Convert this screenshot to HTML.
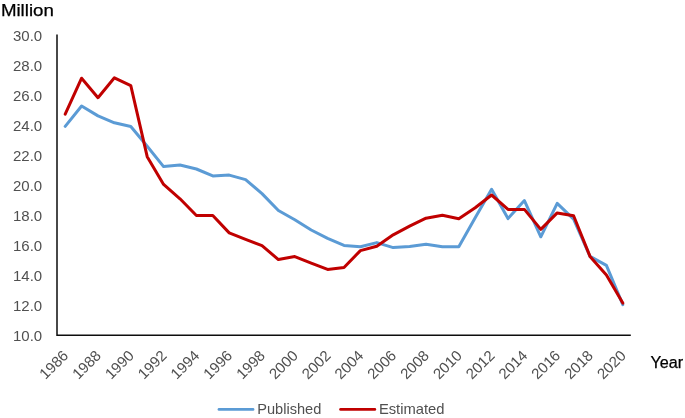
<!DOCTYPE html>
<html lang="en"><head><meta charset="utf-8"><title>Chart</title>
<style>
html,body{margin:0;padding:0;background:#fff;}
body{width:685px;height:418px;overflow:hidden;}
svg{display:block;}
text{font-family:"Liberation Sans",sans-serif;}
.t{font-size:15px;fill:#505050;}
.b{font-size:15px;fill:#000;stroke:#000;stroke-width:0.25px;}
</style></head><body>
<svg width="685" height="418" viewBox="0 0 685 418">
<rect width="685" height="418" fill="#fff"/>
<text class="b" x="0.9" y="15.9" textLength="53" lengthAdjust="spacingAndGlyphs" style="font-size:16.2px">Million</text>
<text class="b" x="650.5" y="368.1" textLength="32.7" lengthAdjust="spacingAndGlyphs" style="font-size:16px">Year</text>
<text class="t" x="42.2" y="40.6" text-anchor="end">30.0</text>
<text class="t" x="42.2" y="70.6" text-anchor="end">28.0</text>
<text class="t" x="42.2" y="100.6" text-anchor="end">26.0</text>
<text class="t" x="42.2" y="130.6" text-anchor="end">24.0</text>
<text class="t" x="42.2" y="160.6" text-anchor="end">22.0</text>
<text class="t" x="42.2" y="190.6" text-anchor="end">20.0</text>
<text class="t" x="42.2" y="220.6" text-anchor="end">18.0</text>
<text class="t" x="42.2" y="250.6" text-anchor="end">16.0</text>
<text class="t" x="42.2" y="280.6" text-anchor="end">14.0</text>
<text class="t" x="42.2" y="310.6" text-anchor="end">12.0</text>
<text class="t" x="42.2" y="340.6" text-anchor="end">10.0</text>
<path d="M57 34.5V335.25H630.8" fill="none" stroke="#0d0d0d" stroke-width="1.5"/>
<text class="t" text-anchor="end" transform="translate(69.2 356.5) rotate(-45)">1986</text>
<text class="t" text-anchor="end" transform="translate(102.0 356.5) rotate(-45)">1988</text>
<text class="t" text-anchor="end" transform="translate(134.8 356.5) rotate(-45)">1990</text>
<text class="t" text-anchor="end" transform="translate(167.6 356.5) rotate(-45)">1992</text>
<text class="t" text-anchor="end" transform="translate(200.4 356.5) rotate(-45)">1994</text>
<text class="t" text-anchor="end" transform="translate(233.2 356.5) rotate(-45)">1996</text>
<text class="t" text-anchor="end" transform="translate(266.0 356.5) rotate(-45)">1998</text>
<text class="t" text-anchor="end" transform="translate(298.8 356.5) rotate(-45)">2000</text>
<text class="t" text-anchor="end" transform="translate(331.6 356.5) rotate(-45)">2002</text>
<text class="t" text-anchor="end" transform="translate(364.4 356.5) rotate(-45)">2004</text>
<text class="t" text-anchor="end" transform="translate(397.2 356.5) rotate(-45)">2006</text>
<text class="t" text-anchor="end" transform="translate(430.0 356.5) rotate(-45)">2008</text>
<text class="t" text-anchor="end" transform="translate(462.8 356.5) rotate(-45)">2010</text>
<text class="t" text-anchor="end" transform="translate(495.6 356.5) rotate(-45)">2012</text>
<text class="t" text-anchor="end" transform="translate(528.4 356.5) rotate(-45)">2014</text>
<text class="t" text-anchor="end" transform="translate(561.2 356.5) rotate(-45)">2016</text>
<text class="t" text-anchor="end" transform="translate(594.0 356.5) rotate(-45)">2018</text>
<text class="t" text-anchor="end" transform="translate(626.8 356.5) rotate(-45)">2020</text>
<polyline points="65.2,126.4 81.6,106.0 98.0,115.9 114.4,122.8 130.8,126.5 147.2,146.3 163.6,166.6 180.0,165.0 196.4,169.0 212.8,175.9 229.2,175.1 245.6,179.6 262.0,193.6 278.4,210.5 294.8,219.7 311.2,230.0 327.6,238.3 344.0,245.4 360.4,246.7 376.8,242.6 393.2,247.6 409.6,246.4 426.0,244.2 442.4,246.8 458.8,246.8 475.2,217.7 491.6,189.2 508.0,218.6 524.4,200.6 540.8,236.8 557.2,203.3 573.6,219.2 590.0,256.4 606.4,265.4 622.8,304.6" fill="none" stroke="#5B9BD5" stroke-width="3" stroke-linejoin="round" stroke-linecap="round"/>
<polyline points="65.2,114.1 81.6,78.2 98.0,97.7 114.4,77.8 130.8,85.6 147.2,156.7 163.6,184.4 180.0,198.8 196.4,215.5 212.8,215.5 229.2,232.9 245.6,239.4 262.0,245.6 278.4,259.6 294.8,256.6 311.2,263.1 327.6,269.4 344.0,267.5 360.4,250.6 376.8,246.2 393.2,234.8 409.6,226.2 426.0,218.2 442.4,215.3 458.8,218.8 475.2,207.8 491.6,195.0 508.0,209.4 524.4,209.4 540.8,229.4 557.2,212.9 573.6,215.8 590.0,256.4 606.4,275.0 622.8,303.1" fill="none" stroke="#C00000" stroke-width="3" stroke-linejoin="round" stroke-linecap="round"/>
<line x1="219" y1="409.4" x2="253" y2="409.4" stroke="#5B9BD5" stroke-width="2.8" stroke-linecap="round"/>
<text class="t" x="257.2" y="413.7" style="font-size:13.9px" textLength="64.1" lengthAdjust="spacingAndGlyphs">Published</text>
<line x1="340.6" y1="409.4" x2="374.8" y2="409.4" stroke="#C00000" stroke-width="2.8" stroke-linecap="round"/>
<text class="t" x="378.9" y="413.7" style="font-size:13.9px" textLength="65.6" lengthAdjust="spacingAndGlyphs">Estimated</text>
</svg>
</body></html>
